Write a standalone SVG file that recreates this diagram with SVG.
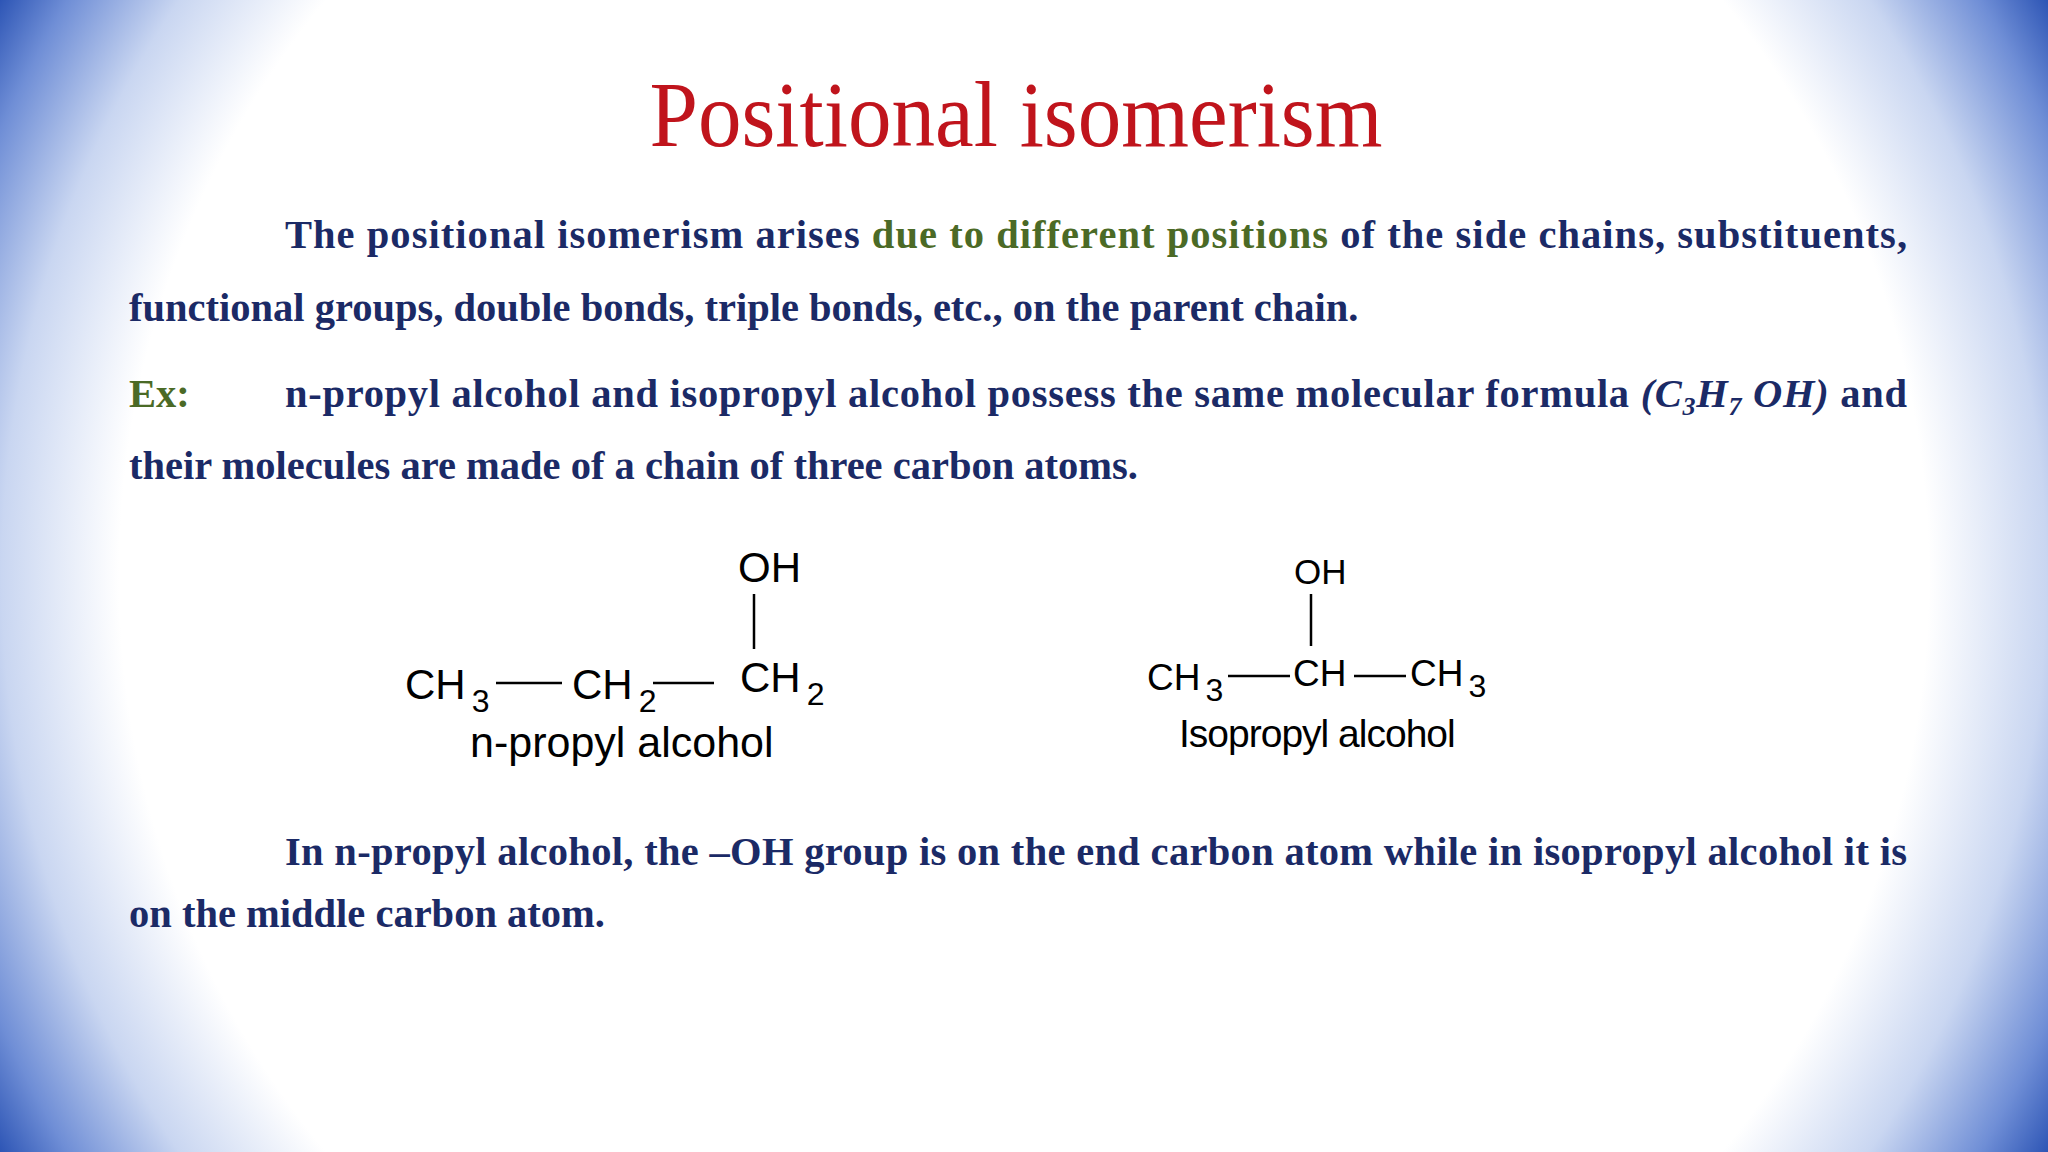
<svg xmlns="http://www.w3.org/2000/svg" width="2048" height="1152" viewBox="0 0 2048 1152">
<defs>
<radialGradient id="bg" gradientUnits="userSpaceOnUse" cx="1024" cy="576" r="1175">
<stop offset="0" stop-color="#ffffff"/>
<stop offset="0.77" stop-color="#ffffff"/>
<stop offset="0.87" stop-color="#c9d6f1"/>
<stop offset="0.95" stop-color="#6f8ed6"/>
<stop offset="1" stop-color="#2d55b5"/>
</radialGradient>
<style>
.p{font-family:"Liberation Serif",serif;font-weight:bold;font-size:40.5px;fill:#1b2a66}
.g{fill:#4b6a26}
.c{font-family:"Liberation Sans",Arial,sans-serif;font-size:42px;fill:#000}
.s{font-size:32px}
.b{stroke:#000;stroke-width:2.5}
</style>
</defs>
<rect width="2048" height="1152" fill="url(#bg)"/>
<text x="1016" y="146" text-anchor="middle" font-family="Liberation Serif,serif" font-size="94" fill="#c0141c" textLength="733" lengthAdjust="spacingAndGlyphs">Positional isomerism</text>
<g class="p">
<text x="285" y="248" textLength="1622" lengthAdjust="spacing">The positional isomerism arises <tspan class="g">due to different positions</tspan> of the side chains, substituents,</text>
<text x="129" y="321">functional groups, double bonds, triple bonds, etc., on the parent chain.</text>
<text x="129" y="407" class="p g">Ex:</text>
<text x="285" y="407" textLength="1622" lengthAdjust="spacing">n-propyl alcohol and isopropyl alcohol possess the same molecular formula <tspan font-style="italic">(C<tspan font-size="26" dy="8">3</tspan><tspan dy="-8">H</tspan><tspan font-size="26" dy="8">7</tspan><tspan dy="-8"> OH)</tspan></tspan> and</text>
<text x="129" y="479">their molecules are made of a chain of three carbon atoms.</text>
<text x="285" y="865" textLength="1622" lengthAdjust="spacing">In n-propyl alcohol, the –OH group is on the end carbon atom while in isopropyl alcohol it is</text>
<text x="129" y="927">on the middle carbon atom.</text>
</g>
<g id="npropyl" class="c">
<text x="405" y="699">CH<tspan class="s" dx="6" dy="13">3</tspan></text>
<text x="572" y="699">CH<tspan class="s" dx="6" dy="13">2</tspan></text>
<text x="740" y="692">CH<tspan class="s" dx="6" dy="13">2</tspan></text>
<text x="738" y="582">OH</text>
<text x="470" y="757" font-size="43">n-propyl alcohol</text>
</g>
<g id="isopropyl" class="c">
<text x="1147" y="690" font-size="37">CH<tspan class="s" font-size="30" dx="5" dy="11">3</tspan></text>
<text x="1293" y="686" font-size="37">CH</text>
<text x="1410" y="686" font-size="37">CH<tspan class="s" font-size="30" dx="5" dy="11">3</tspan></text>
<text x="1294" y="584" font-size="35">OH</text>
<text x="1179" y="747" font-size="39" letter-spacing="-1">Isopropyl alcohol</text>
</g>
<g id="connectors" class="b">
<line x1="496" y1="683" x2="562" y2="683"/>
<line x1="653" y1="683" x2="714" y2="683"/>
<line x1="754" y1="594" x2="754" y2="649"/>
<line x1="1228" y1="676" x2="1290" y2="676"/>
<line x1="1354" y1="676" x2="1406" y2="676"/>
<line x1="1311" y1="594" x2="1311" y2="646"/>
</g>
</svg>
